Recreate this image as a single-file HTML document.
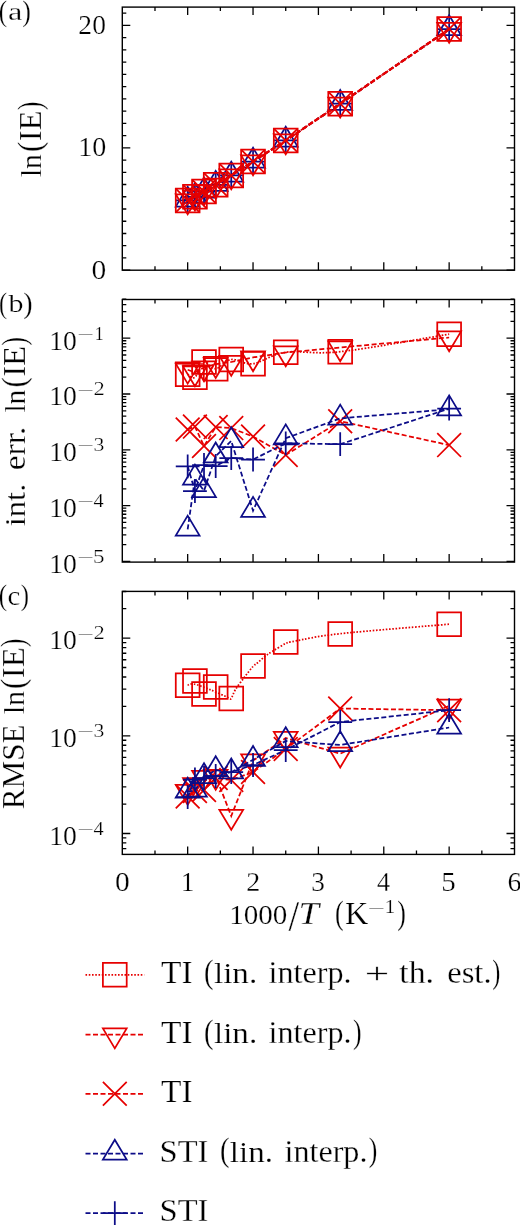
<!DOCTYPE html>
<html><head><meta charset="utf-8"><title>plot</title>
<style>
html,body{margin:0;padding:0;background:#fff;}
body{width:520px;height:1225px;overflow:hidden;}
svg{display:block;}
text{font-family:"Liberation Serif","DejaVu Serif",serif;fill:#000;stroke:#fff;stroke-width:0.25px;}
</style></head><body>
<svg width="520" height="1225" viewBox="0 0 520 1225">
<rect width="520" height="1225" fill="#fff"/>
<path d="M154.99 270.2v-4M154.99 7.1v4M187.67 270.2v-8M187.67 7.1v8M220.36 270.2v-4M220.36 7.1v4M253.04 270.2v-8M253.04 7.1v8M285.73 270.2v-4M285.73 7.1v4M318.41 270.2v-8M318.41 7.1v8M351.1 270.2v-4M351.1 7.1v4M383.78 270.2v-8M383.78 7.1v8M416.47 270.2v-4M416.47 7.1v4M449.15 270.2v-8M449.15 7.1v8M481.84 270.2v-4M481.84 7.1v4M122.3 270.2h8M514.5 270.2h-8M122.3 257.96h4M514.5 257.96h-4M122.3 245.72h4M514.5 245.72h-4M122.3 233.48h4M514.5 233.48h-4M122.3 221.24h4M514.5 221.24h-4M122.3 209h4M514.5 209h-4M122.3 196.76h4M514.5 196.76h-4M122.3 184.52h4M514.5 184.52h-4M122.3 172.28h4M514.5 172.28h-4M122.3 160.04h4M514.5 160.04h-4M122.3 147.8h8M514.5 147.8h-8M122.3 135.56h4M514.5 135.56h-4M122.3 123.32h4M514.5 123.32h-4M122.3 111.08h4M514.5 111.08h-4M122.3 98.84h4M514.5 98.84h-4M122.3 86.6h4M514.5 86.6h-4M122.3 74.36h4M514.5 74.36h-4M122.3 62.12h4M514.5 62.12h-4M122.3 49.88h4M514.5 49.88h-4M122.3 37.64h4M514.5 37.64h-4M122.3 25.4h8M514.5 25.4h-8M122.3 13.16h4M514.5 13.16h-4" stroke="#000" stroke-width="1.3" fill="none"/>
<rect x="122.3" y="7.1" width="392.2" height="263.1" stroke="#000" stroke-width="1.4" fill="none"/>
<path d="M154.99 562.1v-4M154.99 299.5v4M187.67 562.1v-8M187.67 299.5v8M220.36 562.1v-4M220.36 299.5v4M253.04 562.1v-8M253.04 299.5v8M285.73 562.1v-4M285.73 299.5v4M318.41 562.1v-8M318.41 299.5v8M351.1 562.1v-4M351.1 299.5v4M383.78 562.1v-8M383.78 299.5v8M416.47 562.1v-4M416.47 299.5v4M449.15 562.1v-8M449.15 299.5v8M481.84 562.1v-4M481.84 299.5v4M122.3 561.4h8M514.5 561.4h-8M122.3 544.6h4M514.5 544.6h-4M122.3 534.78h4M514.5 534.78h-4M122.3 527.81h4M514.5 527.81h-4M122.3 522.4h4M514.5 522.4h-4M122.3 517.98h4M514.5 517.98h-4M122.3 514.24h4M514.5 514.24h-4M122.3 511.01h4M514.5 511.01h-4M122.3 508.15h4M514.5 508.15h-4M122.3 505.6h8M514.5 505.6h-8M122.3 488.8h4M514.5 488.8h-4M122.3 478.98h4M514.5 478.98h-4M122.3 472.01h4M514.5 472.01h-4M122.3 466.6h4M514.5 466.6h-4M122.3 462.18h4M514.5 462.18h-4M122.3 458.44h4M514.5 458.44h-4M122.3 455.21h4M514.5 455.21h-4M122.3 452.35h4M514.5 452.35h-4M122.3 449.8h8M514.5 449.8h-8M122.3 433h4M514.5 433h-4M122.3 423.18h4M514.5 423.18h-4M122.3 416.21h4M514.5 416.21h-4M122.3 410.8h4M514.5 410.8h-4M122.3 406.38h4M514.5 406.38h-4M122.3 402.64h4M514.5 402.64h-4M122.3 399.41h4M514.5 399.41h-4M122.3 396.55h4M514.5 396.55h-4M122.3 394h8M514.5 394h-8M122.3 377.2h4M514.5 377.2h-4M122.3 367.38h4M514.5 367.38h-4M122.3 360.41h4M514.5 360.41h-4M122.3 355h4M514.5 355h-4M122.3 350.58h4M514.5 350.58h-4M122.3 346.84h4M514.5 346.84h-4M122.3 343.61h4M514.5 343.61h-4M122.3 340.75h4M514.5 340.75h-4M122.3 338.2h8M514.5 338.2h-8M122.3 321.4h4M514.5 321.4h-4M122.3 311.58h4M514.5 311.58h-4M122.3 304.61h4M514.5 304.61h-4M122.3 299.2h4M514.5 299.2h-4" stroke="#000" stroke-width="1.3" fill="none"/>
<rect x="122.3" y="299.5" width="392.2" height="262.6" stroke="#000" stroke-width="1.4" fill="none"/>
<path d="M154.99 854.4v-4M154.99 591.4v4M187.67 854.4v-8M187.67 591.4v8M220.36 854.4v-4M220.36 591.4v4M253.04 854.4v-8M253.04 591.4v8M285.73 854.4v-4M285.73 591.4v4M318.41 854.4v-8M318.41 591.4v8M351.1 854.4v-4M351.1 591.4v4M383.78 854.4v-8M383.78 591.4v8M416.47 854.4v-4M416.47 591.4v4M449.15 854.4v-8M449.15 591.4v8M481.84 854.4v-4M481.84 591.4v4M122.3 848.63h4M514.5 848.63h-4M122.3 842.97h4M514.5 842.97h-4M122.3 837.97h4M514.5 837.97h-4M122.3 833.5h8M514.5 833.5h-8M122.3 804.09h4M514.5 804.09h-4M122.3 786.89h4M514.5 786.89h-4M122.3 774.68h4M514.5 774.68h-4M122.3 765.21h4M514.5 765.21h-4M122.3 757.47h4M514.5 757.47h-4M122.3 750.93h4M514.5 750.93h-4M122.3 745.27h4M514.5 745.27h-4M122.3 740.27h4M514.5 740.27h-4M122.3 735.8h8M514.5 735.8h-8M122.3 706.39h4M514.5 706.39h-4M122.3 689.19h4M514.5 689.19h-4M122.3 676.98h4M514.5 676.98h-4M122.3 667.51h4M514.5 667.51h-4M122.3 659.77h4M514.5 659.77h-4M122.3 653.23h4M514.5 653.23h-4M122.3 647.57h4M514.5 647.57h-4M122.3 642.57h4M514.5 642.57h-4M122.3 638.1h8M514.5 638.1h-8M122.3 608.69h4M514.5 608.69h-4M122.3 591.49h4M514.5 591.49h-4" stroke="#000" stroke-width="1.3" fill="none"/>
<rect x="122.3" y="591.4" width="392.2" height="263" stroke="#000" stroke-width="1.4" fill="none"/>
<path d="M187.67 200.43L194.93 196.76L204.01 191.5L215.69 184.76L231.25 175.46L253.04 161.51L285.73 140.46L340.2 103.74L449.15 29.07" stroke="#0c0c88" stroke-width="1.75" stroke-dasharray="5 2.5" fill="none"/>
<path d="M187.67 186.66L199.57 206.58H175.77zM194.93 182.98L206.83 202.91H183.03zM204.01 177.72L215.91 197.65H192.11zM215.69 170.99L227.59 190.91H203.79zM231.25 161.69L243.15 181.61H219.35zM253.04 147.73L264.94 167.66H241.14zM285.73 126.68L297.62 146.61H273.83zM340.2 89.96L352.1 109.89H328.3zM449.15 15.3L461.05 35.22H437.25z" stroke="#0c0c88" stroke-width="1.75" fill="none" stroke-linejoin="miter"/>
<path d="M187.67 200.43L194.93 196.76L204.01 191.5L215.69 184.76L231.25 175.46L253.04 161.51L285.73 140.46L340.2 103.74L449.15 29.07" stroke="#0c0c88" stroke-width="1.75" stroke-dasharray="5 2.5" fill="none"/>
<path d="M187.67 188.53v23.8M175.77 200.43h23.8M194.93 184.86v23.8M183.03 196.76h23.8M204.01 179.6v23.8M192.11 191.5h23.8M215.69 172.86v23.8M203.79 184.76h23.8M231.25 163.56v23.8M219.35 175.46h23.8M253.04 149.61v23.8M241.14 161.51h23.8M285.73 128.56v23.8M273.83 140.46h23.8M340.2 91.84v23.8M328.3 103.74h23.8M449.15 17.17v23.8M437.25 29.07h23.8" stroke="#0c0c88" stroke-width="1.75" fill="none" stroke-linejoin="miter"/>
<path d="M187.67 200.43L194.93 196.76L204.01 191.5L215.69 184.76L231.25 175.46L253.04 161.51L285.73 140.46L340.2 103.74L449.15 29.07" stroke="#e60000" stroke-width="1.75" stroke-dasharray="1.6 1.65" fill="none"/>
<path d="M175.77 188.53h23.8v23.8h-23.8zM183.03 184.86h23.8v23.8h-23.8zM192.11 179.6h23.8v23.8h-23.8zM203.79 172.86h23.8v23.8h-23.8zM219.35 163.56h23.8v23.8h-23.8zM241.14 149.61h23.8v23.8h-23.8zM273.83 128.56h23.8v23.8h-23.8zM328.3 91.84h23.8v23.8h-23.8zM437.25 17.17h23.8v23.8h-23.8z" stroke="#e60000" stroke-width="1.75" fill="none" stroke-linejoin="miter"/>
<path d="M187.67 200.43L194.93 196.76L204.01 191.5L215.69 184.76L231.25 175.46L253.04 161.51L285.73 140.46L340.2 103.74L449.15 29.07" stroke="#e60000" stroke-width="1.75" stroke-dasharray="5 2.5" fill="none"/>
<path d="M187.67 214.21L199.57 194.28H175.77zM194.93 210.54L206.83 190.61H183.03zM204.01 205.27L215.91 185.35H192.11zM215.69 198.54L227.59 178.61H203.79zM231.25 189.24L243.15 169.31H219.35zM253.04 175.28L264.94 155.36H241.14zM285.73 154.23L297.62 134.31H273.83zM340.2 117.51L352.1 97.59H328.3zM449.15 42.85L461.05 22.92H437.25z" stroke="#e60000" stroke-width="1.75" fill="none" stroke-linejoin="miter"/>
<path d="M187.67 200.43L194.93 196.76L204.01 191.5L215.69 184.76L231.25 175.46L253.04 161.51L285.73 140.46L340.2 103.74L449.15 29.07" stroke="#e60000" stroke-width="2.4" stroke-dasharray="5 2.5" fill="none"/>
<path d="M175.77 188.53l23.8 23.8M175.77 212.33l23.8 -23.8M183.03 184.86l23.8 23.8M183.03 208.66l23.8 -23.8M192.11 179.6l23.8 23.8M192.11 203.4l23.8 -23.8M203.79 172.86l23.8 23.8M203.79 196.66l23.8 -23.8M219.35 163.56l23.8 23.8M219.35 187.36l23.8 -23.8M241.14 149.61l23.8 23.8M241.14 173.41l23.8 -23.8M273.83 128.56l23.8 23.8M273.83 152.36l23.8 -23.8M328.3 91.84l23.8 23.8M328.3 115.64l23.8 -23.8M437.25 17.17l23.8 23.8M437.25 40.97l23.8 -23.8" stroke="#e60000" stroke-width="1.75" fill="none" stroke-linejoin="miter"/>
<path d="M187.67 374.2C188.88 374.72 192.21 379.33 194.93 377.3C197.66 375.27 200.55 363.43 204.01 362C207.47 360.57 211.15 369.12 215.69 368.7C220.23 368.28 225.02 360.33 231.25 359.5C237.48 358.67 243.96 364.92 253.04 363.7C262.12 362.48 271.2 354.2 285.73 352.2C300.25 350.2 312.96 354.7 340.2 351.7C367.44 348.7 430.99 337.12 449.15 334.2" stroke="#e60000" stroke-width="1.75" stroke-dasharray="1.6 1.65" fill="none"/>
<path d="M175.77 362.3h23.8v23.8h-23.8zM183.03 365.4h23.8v23.8h-23.8zM192.11 350.1h23.8v23.8h-23.8zM203.79 356.8h23.8v23.8h-23.8zM219.35 347.6h23.8v23.8h-23.8zM241.14 351.8h23.8v23.8h-23.8zM273.83 340.3h23.8v23.8h-23.8zM328.3 339.8h23.8v23.8h-23.8zM437.25 322.3h23.8v23.8h-23.8z" stroke="#e60000" stroke-width="1.75" fill="none" stroke-linejoin="miter"/>
<path d="M187.67 369.8L194.93 372.5L204.01 367.5L215.69 364.2L231.25 362L253.04 357.4L285.73 352.5L340.2 347.5L449.15 337.5" stroke="#e60000" stroke-width="1.75" stroke-dasharray="5 2.5" fill="none"/>
<path d="M187.67 383.58L199.57 363.65H175.77zM194.93 386.28L206.83 366.35H183.03zM204.01 381.28L215.91 361.35H192.11zM215.69 377.98L227.59 358.05H203.79zM231.25 375.78L243.15 355.85H219.35zM253.04 371.18L264.94 351.25H241.14zM285.73 366.28L297.62 346.35H273.83zM340.2 361.28L352.1 341.35H328.3zM449.15 351.28L461.05 331.35H437.25z" stroke="#e60000" stroke-width="1.75" fill="none" stroke-linejoin="miter"/>
<path d="M187.67 429.5L194.93 426.6L204.01 446L215.69 427.1L231.25 428.1L253.04 436.6L285.73 455L340.2 421.2L449.15 445.1" stroke="#e60000" stroke-width="1.75" stroke-dasharray="5 2.5" fill="none"/>
<path d="M175.77 417.6l23.8 23.8M175.77 441.4l23.8 -23.8M183.03 414.7l23.8 23.8M183.03 438.5l23.8 -23.8M192.11 434.1l23.8 23.8M192.11 457.9l23.8 -23.8M203.79 415.2l23.8 23.8M203.79 439l23.8 -23.8M219.35 416.2l23.8 23.8M219.35 440l23.8 -23.8M241.14 424.7l23.8 23.8M241.14 448.5l23.8 -23.8M273.83 443.1l23.8 23.8M273.83 466.9l23.8 -23.8M328.3 409.3l23.8 23.8M328.3 433.1l23.8 -23.8M437.25 433.2l23.8 23.8M437.25 457l23.8 -23.8" stroke="#e60000" stroke-width="1.75" fill="none" stroke-linejoin="miter"/>
<path d="M187.67 529.4L194.93 478.4L204.01 490.9L215.69 456.3L231.25 441L253.04 510.7L285.73 438.2L340.2 418.4L449.15 409.2" stroke="#0c0c88" stroke-width="1.75" stroke-dasharray="5 2.5" fill="none"/>
<path d="M187.67 515.62L199.57 535.55H175.77zM194.93 464.62L206.83 484.55H183.03zM204.01 477.12L215.91 497.05H192.11zM215.69 442.52L227.59 462.45H203.79zM231.25 427.22L243.15 447.15H219.35zM253.04 496.92L264.94 516.85H241.14zM285.73 424.42L297.62 444.35H273.83zM340.2 404.62L352.1 424.55H328.3zM449.15 395.42L461.05 415.35H437.25z" stroke="#0c0c88" stroke-width="1.75" fill="none" stroke-linejoin="miter"/>
<path d="M187.67 466.3L194.93 491L204.01 465L215.69 466L231.25 458L253.04 459.5L285.73 443.3L340.2 444.2L449.15 408.7" stroke="#0c0c88" stroke-width="1.75" stroke-dasharray="5 2.5" fill="none"/>
<path d="M187.67 454.4v23.8M175.77 466.3h23.8M194.93 479.1v23.8M183.03 491h23.8M204.01 453.1v23.8M192.11 465h23.8M215.69 454.1v23.8M203.79 466h23.8M231.25 446.1v23.8M219.35 458h23.8M253.04 447.6v23.8M241.14 459.5h23.8M285.73 431.4v23.8M273.83 443.3h23.8M340.2 432.3v23.8M328.3 444.2h23.8M449.15 396.8v23.8M437.25 408.7h23.8" stroke="#0c0c88" stroke-width="1.75" fill="none" stroke-linejoin="miter"/>
<path d="M187.6 685.2C188.67 685 190.27 683.27 194 684C197.73 684.73 204.25 687.32 210 689.6C215.75 691.88 224.97 696.23 228.5 697.7C232.03 699.17 230.05 699.75 231.2 698.4C232.35 697.05 233.17 693.17 235.4 689.6C237.63 686.03 241.67 680.85 244.6 677C247.53 673.15 250.68 669 253 666.5C255.32 664 256.43 663.75 258.5 662C260.57 660.25 263.1 657.75 265.4 656C267.7 654.25 268.92 653.58 272.3 651.5C275.68 649.42 281.85 645.25 285.7 643.5C289.55 641.75 286.33 642.63 295.4 641C304.47 639.37 314.48 636.5 340.1 633.7C365.72 630.9 430.93 625.78 449.1 624.2" stroke="#e60000" stroke-width="1.75" stroke-dasharray="1.6 1.65" fill="none"/>
<path d="M175.77 673.3h23.8v23.8h-23.8zM183.03 669.1h23.8v23.8h-23.8zM192.11 682.1h23.8v23.8h-23.8zM203.79 675.1h23.8v23.8h-23.8zM219.35 686.5h23.8v23.8h-23.8zM241.14 654h23.8v23.8h-23.8zM273.83 630.1h23.8v23.8h-23.8zM328.3 622.1h23.8v23.8h-23.8zM437.25 612.3h23.8v23.8h-23.8z" stroke="#e60000" stroke-width="1.75" fill="none" stroke-linejoin="miter"/>
<path d="M187.67 791L194.93 784.3L204.01 777L215.69 776L231.25 816L253.04 760.6L285.73 738L340.2 753.7L449.15 705.8" stroke="#e60000" stroke-width="1.75" stroke-dasharray="5 2.5" fill="none"/>
<path d="M187.67 804.78L199.57 784.85H175.77zM194.93 798.08L206.83 778.15H183.03zM204.01 790.78L215.91 770.85H192.11zM215.69 789.78L227.59 769.85H203.79zM231.25 829.78L243.15 809.85H219.35zM253.04 774.38L264.94 754.45H241.14zM285.73 751.78L297.62 731.85H273.83zM340.2 767.48L352.1 747.55H328.3zM449.15 719.58L461.05 699.65H437.25z" stroke="#e60000" stroke-width="1.75" fill="none" stroke-linejoin="miter"/>
<path d="M187.67 796.5L194.93 791L204.01 790L215.69 778L231.25 780L253.04 772L285.73 749L340.2 708.5L449.15 710.2" stroke="#e60000" stroke-width="1.75" stroke-dasharray="5 2.5" fill="none"/>
<path d="M175.77 784.6l23.8 23.8M175.77 808.4l23.8 -23.8M183.03 779.1l23.8 23.8M183.03 802.9l23.8 -23.8M192.11 778.1l23.8 23.8M192.11 801.9l23.8 -23.8M203.79 766.1l23.8 23.8M203.79 789.9l23.8 -23.8M219.35 768.1l23.8 23.8M219.35 791.9l23.8 -23.8M241.14 760.1l23.8 23.8M241.14 783.9l23.8 -23.8M273.83 737.1l23.8 23.8M273.83 760.9l23.8 -23.8M328.3 696.6l23.8 23.8M328.3 720.4l23.8 -23.8M437.25 698.3l23.8 23.8M437.25 722.1l23.8 -23.8" stroke="#e60000" stroke-width="1.75" fill="none" stroke-linejoin="miter"/>
<path d="M187.67 791.5L194.93 790.5L204.01 777L215.69 770L231.25 772.3L253.04 759.8L285.73 741L340.2 745L449.15 727.5" stroke="#0c0c88" stroke-width="1.75" stroke-dasharray="5 2.5" fill="none"/>
<path d="M187.67 777.72L199.57 797.65H175.77zM194.93 776.72L206.83 796.65H183.03zM204.01 763.22L215.91 783.15H192.11zM215.69 756.22L227.59 776.15H203.79zM231.25 758.52L243.15 778.45H219.35zM253.04 746.02L264.94 765.95H241.14zM285.73 727.22L297.62 747.15H273.83zM340.2 731.22L352.1 751.15H328.3zM449.15 713.72L461.05 733.65H437.25z" stroke="#0c0c88" stroke-width="1.75" fill="none" stroke-linejoin="miter"/>
<path d="M187.67 797L194.93 779.5L204.01 778L215.69 776L231.25 772L253.04 765L285.73 750L340.2 722L449.15 710.2" stroke="#0c0c88" stroke-width="1.75" stroke-dasharray="5 2.5" fill="none"/>
<path d="M187.67 785.1v23.8M175.77 797h23.8M194.93 767.6v23.8M183.03 779.5h23.8M204.01 766.1v23.8M192.11 778h23.8M215.69 764.1v23.8M203.79 776h23.8M231.25 760.1v23.8M219.35 772h23.8M253.04 753.1v23.8M241.14 765h23.8M285.73 738.1v23.8M273.83 750h23.8M340.2 710.1v23.8M328.3 722h23.8M449.15 698.3v23.8M437.25 710.2h23.8" stroke="#0c0c88" stroke-width="1.75" fill="none" stroke-linejoin="miter"/>
<path d="M85.5 974.8H144.2" stroke="#e60000" stroke-width="1.75" stroke-dasharray="1.6 1.65" fill="none"/>
<path d="M102.9 962.9h23.8v23.8h-23.8z" stroke="#e60000" stroke-width="1.75" fill="none"/>
<path d="M85.5 1034.6H144.2" stroke="#e60000" stroke-width="1.75" stroke-dasharray="5 2.5" fill="none"/>
<path d="M114.8 1048.38L126.7 1028.45H102.9z" stroke="#e60000" stroke-width="1.75" fill="none"/>
<path d="M85.5 1093.8H144.2" stroke="#e60000" stroke-width="1.75" stroke-dasharray="5 2.5" fill="none"/>
<path d="M102.9 1081.9l23.8 23.8M102.9 1105.7l23.8 -23.8" stroke="#e60000" stroke-width="1.75" fill="none"/>
<path d="M85.5 1153.5H144.2" stroke="#0c0c88" stroke-width="1.75" stroke-dasharray="5 2.5" fill="none"/>
<path d="M114.8 1139.72L126.7 1159.65H102.9z" stroke="#0c0c88" stroke-width="1.75" fill="none"/>
<path d="M85.5 1213.1H144.2" stroke="#0c0c88" stroke-width="1.75" stroke-dasharray="5 2.5" fill="none"/>
<path d="M114.8 1201.2v23.8M102.9 1213.1h23.8" stroke="#0c0c88" stroke-width="1.75" fill="none"/>
<text transform="translate(-1.13 21) scale(0.8305 1)" font-size="30.22">(</text>
<text transform="translate(7.97 20.25) scale(1.2750 1)" font-size="25.42">a</text>
<text transform="translate(22.13 21) scale(0.8527 1)" font-size="30.22">)</text>
<text transform="translate(-1.09 313.1) scale(0.8046 1)" font-size="30.22">(</text>
<text transform="translate(8.5 312.24) scale(1.1432 1)" font-size="26.24">b</text>
<text transform="translate(23.36 313.1) scale(0.9291 1)" font-size="30.22">)</text>
<text transform="translate(-1.13 605.4) scale(0.8305 1)" font-size="30.22">(</text>
<text transform="translate(7.55 605.13) scale(1.0634 1)" font-size="27.08">c</text>
<text transform="translate(20.76 605.4) scale(0.8145 1)" font-size="30.22">)</text>
<text transform="translate(78.36 34.13) scale(1.0049 1)" font-size="27.41">20</text>
<text transform="translate(78.21 156.32) scale(1.0148 1)" font-size="27.70">10</text>
<text transform="translate(91.42 278.82) scale(1.0489 1)" font-size="28.15">0</text>
<text transform="translate(49.15 349.5) scale(1.0057 1)" font-size="27.50">10</text>
<text transform="translate(77.32 340.77) scale(1.5620 1)" font-size="19.00">−</text>
<text transform="translate(94.42 339.5) scale(0.9785 1)" font-size="19.00">1</text>
<text transform="translate(49.15 405.3) scale(1.0057 1)" font-size="27.50">10</text>
<text transform="translate(77.32 396.57) scale(1.5620 1)" font-size="19.00">−</text>
<text transform="translate(93.49 395.3) scale(1.1842 1)" font-size="19.00">2</text>
<text transform="translate(49.15 461.1) scale(1.0057 1)" font-size="27.50">10</text>
<text transform="translate(77.32 452.37) scale(1.5620 1)" font-size="19.00">−</text>
<text transform="translate(93.52 451.1) scale(1.1414 1)" font-size="19.00">3</text>
<text transform="translate(49.15 516.9) scale(1.0057 1)" font-size="27.50">10</text>
<text transform="translate(77.32 508.17) scale(1.5620 1)" font-size="19.00">−</text>
<text transform="translate(93.59 506.9) scale(1.0753 1)" font-size="19.00">4</text>
<text transform="translate(49.15 572.7) scale(1.0057 1)" font-size="27.50">10</text>
<text transform="translate(77.32 563.97) scale(1.5620 1)" font-size="19.00">−</text>
<text transform="translate(92.92 562.7) scale(1.2105 1)" font-size="19.00">5</text>
<text transform="translate(49.15 649.4) scale(1.0057 1)" font-size="27.50">10</text>
<text transform="translate(77.32 640.67) scale(1.5620 1)" font-size="19.00">−</text>
<text transform="translate(93.49 639.4) scale(1.1842 1)" font-size="19.00">2</text>
<text transform="translate(49.15 747.1) scale(1.0057 1)" font-size="27.50">10</text>
<text transform="translate(77.32 738.37) scale(1.5620 1)" font-size="19.00">−</text>
<text transform="translate(93.52 737.1) scale(1.1414 1)" font-size="19.00">3</text>
<text transform="translate(49.15 844.8) scale(1.0057 1)" font-size="27.50">10</text>
<text transform="translate(77.32 836.07) scale(1.5620 1)" font-size="19.00">−</text>
<text transform="translate(93.59 834.8) scale(1.0753 1)" font-size="19.00">4</text>
<text transform="translate(114.92 891.4) scale(1.0736 1)" font-size="27.50">0</text>
<text transform="translate(181.02 891.4) scale(0.9629 1)" font-size="27.50">1</text>
<text transform="translate(246.18 891.4) scale(1.0182 1)" font-size="27.50">2</text>
<text transform="translate(311.33 891.4) scale(0.9901 1)" font-size="27.50">3</text>
<text transform="translate(376.91 891.4) scale(0.9462 1)" font-size="27.50">4</text>
<text transform="translate(441.31 891.4) scale(1.0545 1)" font-size="27.50">5</text>
<text transform="translate(507.4 891.4) scale(1.0148 1)" font-size="27.50">6</text>
<text transform="translate(229.23 923.8) scale(1.0570 1)" font-size="27.50">1000</text>
<text transform="translate(288.5 931.06) scale(0.8585 1)" font-size="44.48">/</text>
<text transform="translate(298.61 923.8) scale(1.1659 1)" font-size="31.50" font-style="italic">T</text>
<text transform="translate(335.12 924.46) scale(0.8023 1)" font-size="32.75">(</text>
<text transform="translate(345.03 923.8) scale(1.0271 1)" font-size="31.50">K</text>
<text transform="translate(367.44 914.77) scale(1.6412 1)" font-size="19.00">−</text>
<text transform="translate(384.46 913.3) scale(1.1416 1)" font-size="19.00">1</text>
<text transform="translate(397.13 924.46) scale(0.7869 1)" font-size="32.75">)</text>
<text transform="translate(41.1 177.09) rotate(-90) scale(0.9682 1)" font-size="30.50">ln</text>
<text transform="translate(41.09 151.98) rotate(-90) scale(0.9248 1)" font-size="33.08">(</text>
<text transform="translate(41.1 141.35) rotate(-90) scale(1.0447 1)" font-size="31.50">IE</text>
<text transform="translate(41.09 110.05) rotate(-90) scale(0.7558 1)" font-size="33.08">)</text>
<text transform="translate(24.6 526.25) rotate(-90) scale(1.0696 1)" font-size="30.50">int.</text>
<text transform="translate(24.6 470.34) rotate(-90) scale(1.1011 1)" font-size="30.50">err.</text>
<text transform="translate(24.6 412.59) rotate(-90) scale(0.9682 1)" font-size="30.50">ln</text>
<text transform="translate(24.59 387.48) rotate(-90) scale(0.9248 1)" font-size="33.08">(</text>
<text transform="translate(24.6 376.85) rotate(-90) scale(1.0447 1)" font-size="31.50">IE</text>
<text transform="translate(24.59 345.55) rotate(-90) scale(0.7558 1)" font-size="33.08">)</text>
<text transform="translate(24.2 809.24) rotate(-90) scale(0.9897 1)" font-size="31.50">RMSE</text>
<text transform="translate(24.2 713.99) rotate(-90) scale(0.9682 1)" font-size="30.50">ln</text>
<text transform="translate(24.19 688.88) rotate(-90) scale(0.9248 1)" font-size="33.08">(</text>
<text transform="translate(24.2 678.25) rotate(-90) scale(1.0447 1)" font-size="31.50">IE</text>
<text transform="translate(24.19 646.95) rotate(-90) scale(0.7558 1)" font-size="33.08">)</text>
<text transform="translate(161.03 982.8) scale(1.0630 1)" font-size="31.50">TI</text>
<text transform="translate(204.11 982.79) scale(0.8655 1)" font-size="33.08">(</text>
<text transform="translate(213.94 982.8) scale(1.0857 1)" font-size="30.50">lin.</text>
<text transform="translate(268.56 982.8) scale(1.0544 1)" font-size="30.50">interp.</text>
<text transform="translate(364.73 982.8) scale(1.4243 1)" font-size="30.50">+</text>
<text transform="translate(399.26 982.8) scale(1.1089 1)" font-size="30.50">th.</text>
<text transform="translate(447.2 982.8) scale(1.0685 1)" font-size="30.50">est.</text>
<text transform="translate(492.17 982.79) scale(0.7326 1)" font-size="33.08">)</text>
<text transform="translate(161.03 1042.6) scale(1.0630 1)" font-size="31.50">TI</text>
<text transform="translate(204.11 1042.59) scale(0.8655 1)" font-size="33.08">(</text>
<text transform="translate(213.94 1042.6) scale(1.0857 1)" font-size="30.50">lin.</text>
<text transform="translate(268.56 1042.6) scale(1.0544 1)" font-size="30.50">interp.</text>
<text transform="translate(352.93 1042.59) scale(0.7791 1)" font-size="33.08">)</text>
<text transform="translate(161.03 1101.8) scale(1.0630 1)" font-size="31.50">TI</text>
<text transform="translate(159.58 1161.5) scale(1.0340 1)" font-size="31.50">STI</text>
<text transform="translate(220.01 1161.49) scale(0.8655 1)" font-size="33.08">(</text>
<text transform="translate(229.84 1161.5) scale(1.0857 1)" font-size="30.50">lin.</text>
<text transform="translate(284.46 1161.5) scale(1.0544 1)" font-size="30.50">interp.</text>
<text transform="translate(368.83 1161.49) scale(0.7791 1)" font-size="33.08">)</text>
<text transform="translate(159.58 1221.1) scale(1.0340 1)" font-size="31.50">STI</text>
</svg>
</body></html>
